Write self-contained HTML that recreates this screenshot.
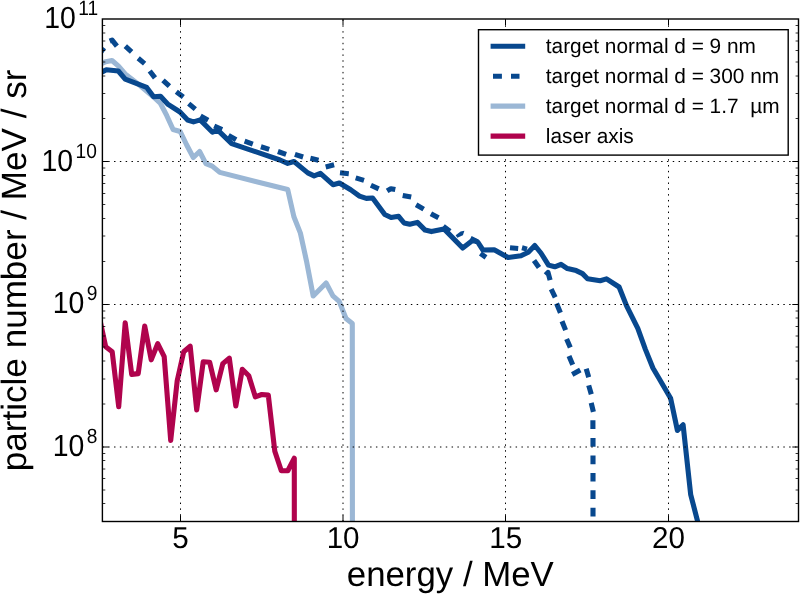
<!DOCTYPE html>
<html lang="en"><head><meta charset="utf-8"><title>Particle spectrum</title>
<style>html,body{margin:0;padding:0;background:#fff}body{width:800px;height:595px;overflow:hidden}svg{display:block}text{text-rendering:geometricPrecision;font-family:"Liberation Sans",Arial,Helvetica,sans-serif;fill:#000}</style></head><body>
<svg width="800" height="595" viewBox="0 0 800 595">
<defs><clipPath id="ax"><rect x="102.4" y="19.0" width="696.1" height="502.5"/></clipPath></defs>
<rect x="0" y="0" width="800" height="595" fill="#fff"/>
<g clip-path="url(#ax)" fill="none" stroke-width="5.1" stroke-linejoin="round">
<polyline stroke="#9bb7d5" points="99.2,64.6 105.8,61.7 112.0,60.5 118.5,66.2 125.2,74.0 140.0,85.5 153.0,96.5 160.5,103.5 166.8,115.7 173.1,129.5 180.2,131.5 186.7,145.0 193.3,157.5 199.6,151.5 205.9,163.6 212.2,166.1 219.8,172.4 287.7,189.5 293.9,216.7 300.4,233.1 306.4,260.6 313.2,296.0 326.1,283.0 332.9,295.9 339.2,301.4 346.0,318.5 352.3,323.6 352.5,700.0"/>
<polyline stroke="#b0034d" points="99.1,316.0 105.7,346.7 112.2,351.7 118.7,406.8 125.2,322.8 131.7,374.4 138.2,373.6 144.7,326.0 151.2,359.8 157.7,343.7 164.2,356.7 170.7,440.5 177.2,380.7 183.7,351.7 190.2,346.2 196.7,410.0 203.2,361.8 209.7,362.3 216.2,389.8 222.8,363.6 229.3,358.2 235.8,406.0 242.3,369.3 248.8,375.7 255.3,396.8 261.8,394.5 268.3,395.1 274.8,451.3 281.3,470.7 287.8,470.7 294.3,458.2 294.4,700.0"/>
<polyline stroke="#08488e" points="99.2,73.5 106.3,69.7 118.3,71.0 125.2,79.2 146.7,87.4 153.6,96.8 160.5,96.2 168.1,104.4 180.0,112.0 187.6,120.0 193.5,121.9 200.2,119.9 212.5,132.2 217.8,130.1 231.7,143.6 280.0,160.0 287.7,163.4 294.0,161.5 307.8,172.9 314.1,175.9 320.4,173.4 333.0,184.7 339.4,183.0 350.7,189.8 359.5,196.1 366.3,198.4 372.6,198.0 384.8,214.5 391.1,217.5 398.6,216.3 404.1,223.0 409.8,224.3 417.4,222.4 425.1,230.1 431.4,231.6 444.0,228.9 462.7,248.0 472.8,240.2 477.8,242.2 482.9,250.0 494.2,249.8 508.1,257.5 521.0,255.7 528.3,252.3 534.8,245.5 540.9,253.0 548.5,265.1 554.8,266.8 561.0,264.3 567.4,268.6 576.2,270.6 582.5,273.6 587.5,278.7 600.2,280.7 606.5,278.9 619.1,287.0 626.6,305.9 637.8,328.4 645.3,349.1 652.9,368.0 658.5,377.5 670.6,398.3 677.4,430.4 683.1,424.8 690.7,494.7 697.1,519.3 703.0,545.0"/>
<path stroke="#08488e" d="M99.2 54.2L104.0 47.7M109.7 41.1L112.1 40.1L116.9 46.1M125.3 46.2L131.6 51.9M138.2 58.3L144.6 63.6M149.7 71.0L155.0 77.9M163.0 80.3L169.4 86.2M176.3 91.7L183.3 97.0M188.7 103.6L195.3 109.1M200.5 116.0L208.1 120.2M214.2 126.0L222.1 129.6M228.5 135.4L236.1 139.8M244.6 141.2L252.8 144.1M260.9 146.8L269.2 149.4M277.9 151.5L286.1 154.4M294.9 154.3L303.1 157.0M310.4 158.3L318.5 160.2M325.7 167.0L334.1 164.8M340.0 172.8L348.8 173.8M355.7 177.9L364.0 180.4M370.9 185.3L378.7 188.9M387.1 190.9L390.9 188.7L395.3 189.6M402.7 195.4L411.2 197.1M416.1 204.7L423.7 209.1M430.9 213.7L438.5 217.8M443.3 226.2L450.0 231.2M470.5 238.4L477.5 241.8M480.4 253.5L486.0 257.3M510.0 247.8L518.2 248.5M522.0 247.8L527.0 249.1M534.0 260.4L539.0 267.4M545.6 274.9L548.0 272.4L550.1 280.2M551.2 289.2L555.2 297.3M556.6 303.6L560.4 312.7M562.0 321.3L565.6 330.1M566.6 338.9L570.3 347.4M569.0 356.0L572.7 364.8M572.2 374.4L580.3 370.1M586.2 368.8L588.7 377.2M588.7 385.4L591.3 394.3M591.2 402.8L593.4 411.8M592.9 420.3L592.9 429.0M593.0 438.1L593.0 446.8M593.0 455.5L593.0 464.2M593.0 472.9L593.0 481.6M593.0 490.3L593.0 499.0M593.0 507.7L593.0 516.4"/>
<polygon fill="#08488e" stroke="none" points="455.7,235.2 460.6,231.6 464.4,230.7 462.9,235.2 457.3,237.7"/>
</g>
<g stroke="#000" stroke-width="1" stroke-dasharray="1.45 4.37" fill="none">
<line x1="180.5" y1="521.5" x2="180.5" y2="19.0"/>
<line x1="343.0" y1="521.5" x2="343.0" y2="19.0"/>
<line x1="505.5" y1="521.5" x2="505.5" y2="19.0"/>
<line x1="668.5" y1="521.5" x2="668.5" y2="19.0"/>
<line x1="102.4" y1="447.0" x2="798.5" y2="447.0"/>
<line x1="102.4" y1="304.5" x2="798.5" y2="304.5"/>
<line x1="102.4" y1="161.5" x2="798.5" y2="161.5"/>
</g>
<g stroke="#000" stroke-width="1">
<line x1="180.5" y1="521.5" x2="180.5" y2="515.3"/>
<line x1="180.5" y1="19.0" x2="180.5" y2="25.2"/>
<line x1="343.0" y1="521.5" x2="343.0" y2="515.3"/>
<line x1="343.0" y1="19.0" x2="343.0" y2="25.2"/>
<line x1="505.5" y1="521.5" x2="505.5" y2="515.3"/>
<line x1="505.5" y1="19.0" x2="505.5" y2="25.2"/>
<line x1="668.5" y1="521.5" x2="668.5" y2="515.3"/>
<line x1="668.5" y1="19.0" x2="668.5" y2="25.2"/>
<line x1="102.4" y1="521.5" x2="105.3" y2="521.5" stroke-width="0.8"/>
<line x1="798.5" y1="521.5" x2="795.6" y2="521.5" stroke-width="0.8"/>
<line x1="102.4" y1="503.5" x2="105.3" y2="503.5" stroke-width="0.8"/>
<line x1="798.5" y1="503.5" x2="795.6" y2="503.5" stroke-width="0.8"/>
<line x1="102.4" y1="490.0" x2="105.3" y2="490.0" stroke-width="0.8"/>
<line x1="798.5" y1="490.0" x2="795.6" y2="490.0" stroke-width="0.8"/>
<line x1="102.4" y1="478.5" x2="105.3" y2="478.5" stroke-width="0.8"/>
<line x1="798.5" y1="478.5" x2="795.6" y2="478.5" stroke-width="0.8"/>
<line x1="102.4" y1="469.0" x2="105.3" y2="469.0" stroke-width="0.8"/>
<line x1="798.5" y1="469.0" x2="795.6" y2="469.0" stroke-width="0.8"/>
<line x1="102.4" y1="460.5" x2="105.3" y2="460.5" stroke-width="0.8"/>
<line x1="798.5" y1="460.5" x2="795.6" y2="460.5" stroke-width="0.8"/>
<line x1="102.4" y1="453.5" x2="105.3" y2="453.5" stroke-width="0.8"/>
<line x1="798.5" y1="453.5" x2="795.6" y2="453.5" stroke-width="0.8"/>
<line x1="102.4" y1="447.0" x2="108.6" y2="447.0"/>
<line x1="798.5" y1="447.0" x2="792.3" y2="447.0"/>
<line x1="102.4" y1="404.0" x2="105.3" y2="404.0" stroke-width="0.8"/>
<line x1="798.5" y1="404.0" x2="795.6" y2="404.0" stroke-width="0.8"/>
<line x1="102.4" y1="379.0" x2="105.3" y2="379.0" stroke-width="0.8"/>
<line x1="798.5" y1="379.0" x2="795.6" y2="379.0" stroke-width="0.8"/>
<line x1="102.4" y1="361.0" x2="105.3" y2="361.0" stroke-width="0.8"/>
<line x1="798.5" y1="361.0" x2="795.6" y2="361.0" stroke-width="0.8"/>
<line x1="102.4" y1="347.0" x2="105.3" y2="347.0" stroke-width="0.8"/>
<line x1="798.5" y1="347.0" x2="795.6" y2="347.0" stroke-width="0.8"/>
<line x1="102.4" y1="336.0" x2="105.3" y2="336.0" stroke-width="0.8"/>
<line x1="798.5" y1="336.0" x2="795.6" y2="336.0" stroke-width="0.8"/>
<line x1="102.4" y1="326.5" x2="105.3" y2="326.5" stroke-width="0.8"/>
<line x1="798.5" y1="326.5" x2="795.6" y2="326.5" stroke-width="0.8"/>
<line x1="102.4" y1="318.0" x2="105.3" y2="318.0" stroke-width="0.8"/>
<line x1="798.5" y1="318.0" x2="795.6" y2="318.0" stroke-width="0.8"/>
<line x1="102.4" y1="311.0" x2="105.3" y2="311.0" stroke-width="0.8"/>
<line x1="798.5" y1="311.0" x2="795.6" y2="311.0" stroke-width="0.8"/>
<line x1="102.4" y1="304.5" x2="108.6" y2="304.5"/>
<line x1="798.5" y1="304.5" x2="792.3" y2="304.5"/>
<line x1="102.4" y1="261.5" x2="105.3" y2="261.5" stroke-width="0.8"/>
<line x1="798.5" y1="261.5" x2="795.6" y2="261.5" stroke-width="0.8"/>
<line x1="102.4" y1="236.0" x2="105.3" y2="236.0" stroke-width="0.8"/>
<line x1="798.5" y1="236.0" x2="795.6" y2="236.0" stroke-width="0.8"/>
<line x1="102.4" y1="218.5" x2="105.3" y2="218.5" stroke-width="0.8"/>
<line x1="798.5" y1="218.5" x2="795.6" y2="218.5" stroke-width="0.8"/>
<line x1="102.4" y1="204.5" x2="105.3" y2="204.5" stroke-width="0.8"/>
<line x1="798.5" y1="204.5" x2="795.6" y2="204.5" stroke-width="0.8"/>
<line x1="102.4" y1="193.5" x2="105.3" y2="193.5" stroke-width="0.8"/>
<line x1="798.5" y1="193.5" x2="795.6" y2="193.5" stroke-width="0.8"/>
<line x1="102.4" y1="183.5" x2="105.3" y2="183.5" stroke-width="0.8"/>
<line x1="798.5" y1="183.5" x2="795.6" y2="183.5" stroke-width="0.8"/>
<line x1="102.4" y1="175.5" x2="105.3" y2="175.5" stroke-width="0.8"/>
<line x1="798.5" y1="175.5" x2="795.6" y2="175.5" stroke-width="0.8"/>
<line x1="102.4" y1="168.0" x2="105.3" y2="168.0" stroke-width="0.8"/>
<line x1="798.5" y1="168.0" x2="795.6" y2="168.0" stroke-width="0.8"/>
<line x1="102.4" y1="161.5" x2="108.6" y2="161.5"/>
<line x1="798.5" y1="161.5" x2="792.3" y2="161.5"/>
<line x1="102.4" y1="118.5" x2="105.3" y2="118.5" stroke-width="0.8"/>
<line x1="798.5" y1="118.5" x2="795.6" y2="118.5" stroke-width="0.8"/>
<line x1="102.4" y1="93.5" x2="105.3" y2="93.5" stroke-width="0.8"/>
<line x1="798.5" y1="93.5" x2="795.6" y2="93.5" stroke-width="0.8"/>
<line x1="102.4" y1="76.0" x2="105.3" y2="76.0" stroke-width="0.8"/>
<line x1="798.5" y1="76.0" x2="795.6" y2="76.0" stroke-width="0.8"/>
<line x1="102.4" y1="62.0" x2="105.3" y2="62.0" stroke-width="0.8"/>
<line x1="798.5" y1="62.0" x2="795.6" y2="62.0" stroke-width="0.8"/>
<line x1="102.4" y1="50.5" x2="105.3" y2="50.5" stroke-width="0.8"/>
<line x1="798.5" y1="50.5" x2="795.6" y2="50.5" stroke-width="0.8"/>
<line x1="102.4" y1="41.0" x2="105.3" y2="41.0" stroke-width="0.8"/>
<line x1="798.5" y1="41.0" x2="795.6" y2="41.0" stroke-width="0.8"/>
<line x1="102.4" y1="33.0" x2="105.3" y2="33.0" stroke-width="0.8"/>
<line x1="798.5" y1="33.0" x2="795.6" y2="33.0" stroke-width="0.8"/>
<line x1="102.4" y1="25.5" x2="105.3" y2="25.5" stroke-width="0.8"/>
<line x1="798.5" y1="25.5" x2="795.6" y2="25.5" stroke-width="0.8"/>
</g>
<rect x="102.4" y="19.0" width="696.1" height="502.5" fill="none" stroke="#000" stroke-width="1.4"/>
<text transform="translate(180.5 548.0) scale(0.98 1)" font-size="30.2" text-anchor="middle">5</text>
<text transform="translate(343.1 548.0) scale(0.98 1)" font-size="30.2" text-anchor="middle">10</text>
<text transform="translate(505.7 548.0) scale(0.98 1)" font-size="30.2" text-anchor="middle">15</text>
<text transform="translate(668.4 548.0) scale(0.98 1)" font-size="30.2" text-anchor="middle">20</text>
<text transform="translate(52.7 455.8) scale(0.93 1)" font-size="30.6">10<tspan font-size="20.6" dx="2.5" dy="-12.8">8</tspan></text>
<text transform="translate(52.7 313.2) scale(0.93 1)" font-size="30.6">10<tspan font-size="20.6" dx="2.5" dy="-12.8">9</tspan></text>
<text transform="translate(41.5 170.5) scale(0.93 1)" font-size="30.6">10<tspan font-size="20.6" dx="2.5" dy="-12.8">10</tspan></text>
<text transform="translate(44.2 27.9) scale(0.93 1)" font-size="30.6">10<tspan font-size="20.6" dx="2.5" dy="-12.8">11</tspan></text>
<text x="450.3" y="586.2" font-size="34.8" text-anchor="middle">energy / MeV</text>
<text transform="translate(26.2 270.4) rotate(-90)" font-size="35.1" text-anchor="middle">particle number / MeV / sr</text>
<rect x="478.5" y="29.7" width="309.7" height="125.4" fill="#fff" stroke="#000" stroke-width="1.4"/>
<line x1="490.6" y1="46.2" x2="525.2" y2="46.2" stroke="#08488e" stroke-width="5.1"/>
<text x="545.8" y="53.1" font-size="20.83" style="white-space:pre">target normal d = 9 nm</text>
<path d="M493 76.2H501.9M511 76.2H519.5" stroke="#08488e" stroke-width="5.1" fill="none"/>
<text x="545.8" y="83.1" font-size="20.83" style="white-space:pre">target normal d = 300 nm</text>
<line x1="490.6" y1="106.1" x2="525.2" y2="106.1" stroke="#9bb7d5" stroke-width="5.1"/>
<text x="545.8" y="113.0" font-size="20.83" style="white-space:pre">target normal d = 1.7  µm</text>
<line x1="490.6" y1="136.1" x2="525.2" y2="136.1" stroke="#b0034d" stroke-width="5.1"/>
<text x="545.8" y="143.0" font-size="20.83" style="white-space:pre">laser axis</text>
</svg></body></html>
